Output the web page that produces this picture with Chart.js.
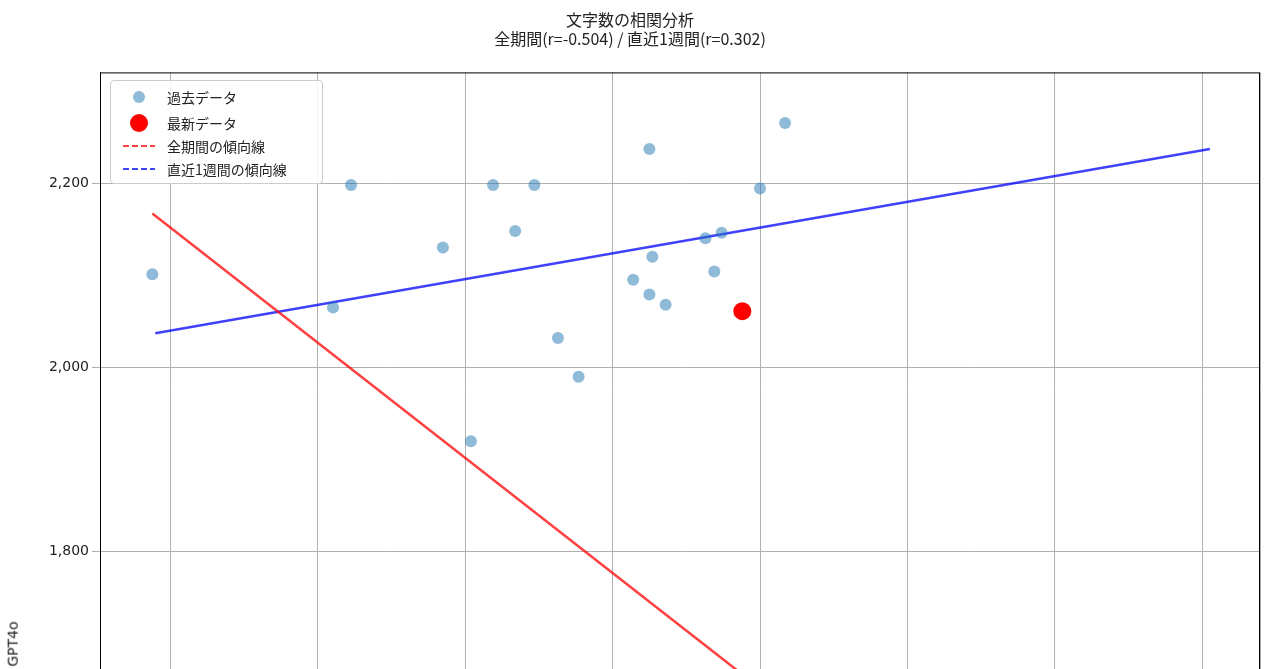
<!DOCTYPE html>
<html><head><meta charset="utf-8">
<script src="https://cdn.jsdelivr.net/npm/chart.js@4.4.1/dist/chart.umd.min.js"></script>
<style>
html,body{margin:0;padding:0;background:#fff;overflow:hidden;font-family:"Noto Sans CJK JP",sans-serif}
#wrap{position:relative;width:1280px;height:669px;overflow:hidden}
#legend{position:absolute;left:110px;top:80px;width:213px;height:104px;border:1px solid #ccc;border-radius:4px;background:rgba(255,255,255,0.85);font-size:14px;color:#222;box-sizing:border-box}
.row{position:absolute;left:8px;display:flex;align-items:center}
.row span.t{position:absolute;left:48px;white-space:nowrap}
#ylab{position:absolute;left:-10px;top:636px;transform:rotate(-90deg);font-size:14px;color:#222;font-family:"DejaVu Sans",sans-serif}
</style></head><body>
<div id="wrap"><canvas id="c" width="1280" height="720"></canvas>
<div id="legend">
<div class="row" style="top:8px"><svg width="40" height="16"><circle cx="20" cy="8" r="6" fill="rgba(31,119,180,0.5)"/></svg><span class="t">過去データ</span></div>
<div class="row" style="top:32px"><svg width="40" height="20"><circle cx="20" cy="10" r="9" fill="red"/></svg><span class="t">最新データ</span></div>
<div class="row" style="top:57px"><svg width="40" height="16"><line x1="4" y1="8" x2="36" y2="8" stroke="rgba(255,0,0,0.75)" stroke-width="2" stroke-dasharray="6,3"/></svg><span class="t">全期間の傾向線</span></div>
<div class="row" style="top:80px"><svg width="40" height="16"><line x1="4" y1="8" x2="36" y2="8" stroke="rgba(0,0,255,0.75)" stroke-width="2" stroke-dasharray="6,3"/></svg><span class="t">直近1週間の傾向線</span></div>
</div>
<div id="ylab">GPT4o</div></div>
<script>
const pastX=[-0.12,1.105,1.227,1.85,2.04,2.19,2.34,2.47,2.63,2.77,3.14,3.25,3.25,3.27,3.36,3.63,3.69,3.74,4.0,4.17];
const pastY=[2101,2065,2198,2130,1920,2198,2148,2198,2032,1990,2095,2079,2237,2120,2068,2140,2104,2146,2194,2265];
const latestX=[3.88];
const latestY=[2061];
const trendAllX=[-0.12,4.17];
const trendAllY=[2167,1631];
const trendWeekX=[-0.10,7.05];
const trendWeekY=[2037,2237];
const yTicks=[1800,2000,2200];
const zip=(a,b)=>a.map((v,i)=>({x:v,y:b[i]}));
const frame={id:'frame',afterDraw(c){const a=c.chartArea,x=c.ctx;x.save();x.strokeStyle='#000';x.lineWidth=1;x.strokeRect(a.left+0.5,a.top+0.5,a.right-a.left-1,a.bottom-a.top);x.restore();}};
new Chart(document.getElementById('c'),{
type:'scatter',plugins:[frame],
data:{datasets:[
{data:zip(pastX,pastY),backgroundColor:'rgba(31,119,180,0.5)',borderWidth:0,pointRadius:6,pointHoverRadius:6},
{data:zip(latestX,latestY),backgroundColor:'red',borderWidth:0,pointRadius:9},
{type:'line',data:zip(trendAllX,trendAllY),borderColor:'rgba(255,0,0,0.75)',borderWidth:2.5,pointRadius:0,fill:false},
{type:'line',data:zip(trendWeekX,trendWeekY),borderColor:'rgba(0,0,255,0.75)',borderWidth:2.5,pointRadius:0,fill:false}
]},
options:{responsive:false,animation:false,
layout:{padding:{left:0,right:20,top:0,bottom:0}},
plugins:{legend:{display:false},tooltip:{enabled:false},
title:{display:true,text:['文字数の相関分析','全期間(r=-0.504) / 直近1週間(r=0.302)'],color:'#222',font:{size:16,weight:'normal',family:'"Noto Sans CJK JP"'},padding:{top:10,bottom:24},lineHeight:1.3}},
scales:{
x:{type:'linear',min:-0.475,max:7.39,ticks:{display:false,stepSize:1},grid:{color:'#b0b0b0',drawTicks:false},border:{color:'#000'}},
y:{min:1630,max:2320,afterBuildTicks:s=>{s.ticks=yTicks.map(v=>({value:v}));},ticks:{color:'#222',font:{size:14,family:'"DejaVu Sans"'}},grid:{color:'#b0b0b0'},border:{color:'#000'},
afterFit:s=>{s.width=100;}}
}}});
</script></body></html>
